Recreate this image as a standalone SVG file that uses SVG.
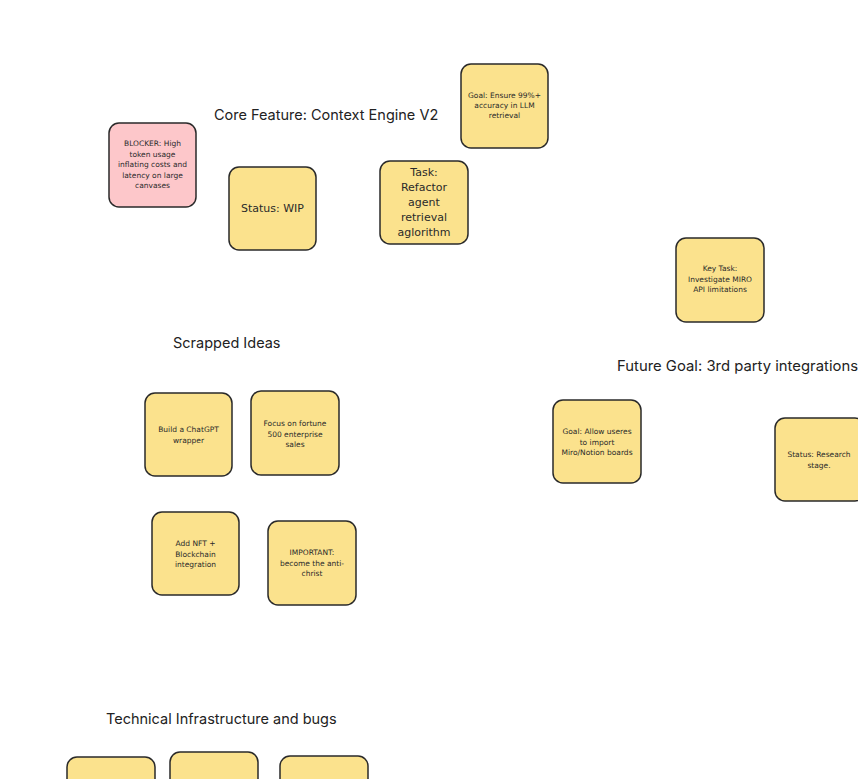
<svg xmlns="http://www.w3.org/2000/svg" width="858" height="779" viewBox="0 0 858 779">
<style>
.n{fill:#fbe28d;stroke:#2a2a2a;stroke-width:1.5}
.p{fill:#fdc7ca;stroke:#2a2a2a;stroke-width:1.5}
.t{font-family:"DejaVu Sans",sans-serif;font-size:7.5px;fill:#2a2a2a;text-anchor:middle}
.b{font-family:"DejaVu Sans",sans-serif;font-size:11px;fill:#2a2a2a;text-anchor:middle}
.h{font-family:"Inter","Liberation Sans",sans-serif;font-size:14.5px;fill:#222}
</style>
<rect width="858" height="779" fill="#fff"/>
<g id="titles">
<text class="h" x="214" y="120">Core Feature: Context Engine V2</text>
<text class="h" x="173" y="348">Scrapped Ideas</text>
<text class="h" x="617" y="371" textLength="241" lengthAdjust="spacingAndGlyphs">Future Goal: 3rd party integrations</text>
<text class="h" x="106" y="724">Technical Infrastructure and bugs</text>
</g>
<g id="goal99"><rect class="n" x="461" y="64" width="87" height="84" rx="10"/><text class="t" x="504.5" y="98"><tspan x="504.5">Goal: Ensure 99%+</tspan><tspan x="504.5" dy="10">accuracy in LLM</tspan><tspan x="504.5" dy="10">retrieval</tspan></text></g>
<g id="blocker"><rect class="p" x="109" y="123" width="87" height="84" rx="10"/><text class="t" x="152.5" y="146"><tspan x="152.5">BLOCKER: High</tspan><tspan x="152.5" dy="10.5">token usage</tspan><tspan x="152.5" dy="10.5">inflating costs and</tspan><tspan x="152.5" dy="10.5">latency on large</tspan><tspan x="152.5" dy="10.5">canvases</tspan></text></g>
<g id="wip"><rect class="n" x="229" y="167" width="87" height="83" rx="10"/><text class="b" x="272.5" y="212">Status: WIP</text></g>
<g id="task"><rect class="n" x="380" y="161" width="88" height="83" rx="10"/><text class="b" x="424" y="176"><tspan x="424">Task:</tspan><tspan x="424" dy="15">Refactor</tspan><tspan x="424" dy="15">agent</tspan><tspan x="424" dy="15">retrieval</tspan><tspan x="424" dy="15">aglorithm</tspan></text></g>
<g id="keytask"><rect class="n" x="676" y="238" width="88" height="84" rx="10"/><text class="t" x="720" y="271"><tspan x="720">Key Task:</tspan><tspan x="720" dy="10.5">Investigate MIRO</tspan><tspan x="720" dy="10.5">API limitations</tspan></text></g>
<g id="allow"><rect class="n" x="553" y="400" width="88" height="83" rx="10"/><text class="t" x="597" y="434"><tspan x="597">Goal: Allow useres</tspan><tspan x="597" dy="10.5">to import</tspan><tspan x="597" dy="10.5">Miro/Notion boards</tspan></text></g>
<g id="research"><rect class="n" x="775" y="418" width="90" height="83" rx="10"/><text class="t" x="819" y="457"><tspan x="819">Status: Research</tspan><tspan x="819" dy="10.5">stage.</tspan></text></g>
<g id="chatgpt"><rect class="n" x="145" y="393" width="87" height="83" rx="10"/><text class="t" x="188.5" y="432"><tspan x="188.5">Build a ChatGPT</tspan><tspan x="188.5" dy="10.5">wrapper</tspan></text></g>
<g id="fortune"><rect class="n" x="251" y="391" width="88" height="84" rx="10"/><text class="t" x="295" y="426"><tspan x="295">Focus on fortune</tspan><tspan x="295" dy="10.5">500 enterprise</tspan><tspan x="295" dy="10.5">sales</tspan></text></g>
<g id="nft"><rect class="n" x="152" y="512" width="87" height="83" rx="10"/><text class="t" x="195.5" y="546"><tspan x="195.5">Add NFT +</tspan><tspan x="195.5" dy="10.5">Blockchain</tspan><tspan x="195.5" dy="10.5">integration</tspan></text></g>
<g id="important"><rect class="n" x="268" y="521" width="88" height="84" rx="10"/><text class="t" x="312" y="555"><tspan x="312">IMPORTANT:</tspan><tspan x="312" dy="10.5">become the anti-</tspan><tspan x="312" dy="10.5">christ</tspan></text></g>
<g id="infra1"><rect class="n" x="67" y="757" width="88" height="40" rx="10"/></g>
<g id="infra2"><rect class="n" x="170" y="752" width="88" height="45" rx="10"/></g>
<g id="infra3"><rect class="n" x="280" y="756" width="88" height="41" rx="10"/></g>
<g id="connectors"></g>
</svg>
